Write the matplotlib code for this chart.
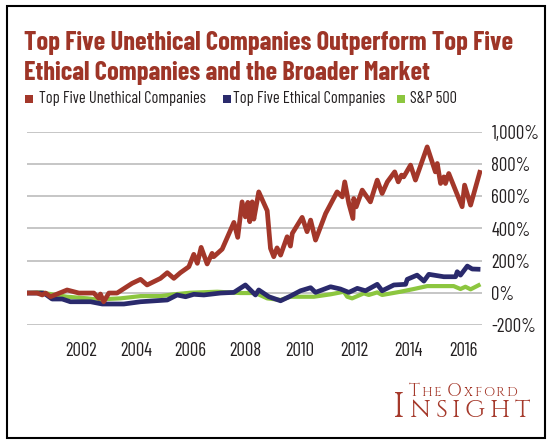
import matplotlib
matplotlib.use('Agg')
import matplotlib.pyplot as plt
from matplotlib.patches import Rectangle
from matplotlib.transforms import IdentityTransform
import matplotlib.ticker as mticker

# ---------------- data ----------------
years_unethical = [2000.0, 2000.38, 2000.57, 2000.69, 2000.87, 2001.48, 2001.91, 2002.46, 2002.64, 2002.70,
                   2002.82, 2003.01, 2003.31, 2003.86, 2004.17, 2004.41, 2004.90, 2005.15, 2005.39, 2005.63,
                   2005.94, 2006.12, 2006.25, 2006.39, 2006.61, 2006.79, 2006.85, 2007.16, 2007.59, 2007.73,
                   2007.89, 2008.01, 2008.10, 2008.17, 2008.26, 2008.32, 2008.50, 2008.81, 2008.93, 2009.05,
                   2009.17, 2009.30, 2009.54, 2009.66, 2009.73, 2010.09, 2010.27, 2010.40, 2010.58, 2010.95,
                   2011.37, 2011.56, 2011.65, 2011.80, 2011.95, 2011.98, 2012.07, 2012.29, 2012.59, 2012.84,
                   2013.02, 2013.21, 2013.48, 2013.61, 2013.73, 2013.81, 2014.06, 2014.24, 2014.67, 2014.97,
                   2015.04, 2015.16, 2015.28, 2015.34, 2015.46, 2015.95, 2016.04, 2016.26, 2016.62]
unethical = [0, 0, -12, 0, -23, 19, 0, 0, -33, -6,
             -54, 0, 0, 60, 85, 50, 91, 126, 91, 126,
             163, 240, 184, 283, 180, 246, 225, 272, 438, 345,
             565, 472, 562, 442, 565, 458, 627, 510, 277, 225,
             280, 235, 349, 291, 370, 469, 380, 452, 328, 493,
             627, 596, 689, 555, 462, 586, 534, 638, 565, 700,
             617, 689, 751, 689, 731, 720, 793, 700, 906, 751,
             803, 679, 720, 679, 741, 535, 669, 545, 762]

years_ethical = [2000.0, 2000.63, 2000.93, 2001.30, 2001.60, 2002.34, 2002.77, 2003.56, 2004.17, 2005.15,
                 2005.51, 2005.82, 2006.12, 2006.49, 2007.10, 2007.59, 2008.01, 2008.38, 2008.50, 2008.87,
                 2009.30, 2009.66, 2010.03, 2010.40, 2010.58, 2011.13, 2011.49, 2011.80, 2012.11, 2012.41,
                 2012.84, 2013.02, 2013.45, 2013.88, 2013.94, 2014.30, 2014.55, 2014.73, 2015.28, 2015.71,
                 2015.77, 2015.89, 2016.14, 2016.32, 2016.62]
ethical = [0, 0, -37, -37, -54, -54, -68, -68, -54, -43,
           -12, -23, -8, -12, 0, 4, 50, -12, 19, -23,
           -48, -19, 14, 33, 4, 39, 25, 4, 29, 14,
           54, 14, 50, 54, 85, 111, 74, 116, 101, 101,
           132, 111, 167, 149, 147]

years_sp500 = [2000.0, 2000.51, 2000.93, 2001.48, 2002.22, 2002.70, 2002.95, 2003.44, 2004.17, 2004.90,
               2005.39, 2006.00, 2006.98, 2007.83, 2008.38, 2008.81, 2009.30, 2009.66, 2010.52, 2011.13,
               2011.62, 2011.74, 2011.92, 2012.35, 2012.53, 2012.84, 2013.02, 2013.69, 2014.18, 2014.67,
               2015.64, 2015.89, 2016.07, 2016.26, 2016.62]
sp500 = [0, 4, -8, -23, -33, -43, -37, -33, -19, -19,
         -8, 2, 8, 0, 0, -33, -43, -23, -23, -8,
         8, -23, -33, -2, -12, 4, -12, 8, 25, 43,
         43, 25, 39, 23, 54]

series_names = ["Top Five Unethical Companies", "Top Five Ethical Companies", "S&P 500"]
title_lines = ["Top Five Unethical Companies Outperform Top Five",
               "Ethical Companies and the Broader Market"]
x_ticks = [2002, 2004, 2006, 2008, 2010, 2012, 2014, 2016]
y_ticks = [-200, 0, 200, 400, 600, 800, 1000]

# ---------------- style ----------------
RED = '#A3372A'
NAVY = '#2A2A6C'
GREEN = '#8CC63F'
TITLE_RED = '#9E3527'
TXT = '#231F20'
COND = ['Barlow Condensed', 'DejaVu Sans']
SERIF = ['Cinzel', 'Liberation Serif', 'DejaVu Serif']
LOGO = '#A5392B'

W, H = 550, 446
fig = plt.figure(figsize=(W / 100, H / 100), dpi=100)
fig.patch.set_facecolor('white')
renderer = fig.canvas.get_renderer()


def fit_size(text, family, weight, target_px):
    t = fig.text(0, 0, text, fontsize=10, family=family, fontweight=weight)
    w = t.get_window_extent(renderer).width
    t.remove()
    return 10.0 * target_px / w


ax = fig.add_axes([26.7 / W, 1 - 325.3 / H, (481.7 - 26.7) / W, (325.3 - 131.7) / H])
ax.set_facecolor('none')

ax.plot(years_sp500, sp500, color=GREEN, lw=3.0, solid_joinstyle='round', solid_capstyle='butt', zorder=3)
ax.plot(years_ethical, ethical, color=NAVY, lw=3.4, solid_joinstyle='round', solid_capstyle='butt', zorder=4)
ax.plot(years_unethical, unethical, color=RED, lw=3.4, solid_joinstyle='round', solid_capstyle='butt', zorder=5)

tick_size = fit_size("2002", COND, 'normal', 31.7)
ax.set_xlim(2000.0, 2016.667)
ax.set_ylim(-200, 1000)
ax.set_xticks(x_ticks)
ax.set_xticklabels([str(t) for t in x_ticks])
ax.set_yticks(y_ticks)
ax.yaxis.set_major_formatter(mticker.FuncFormatter(lambda v, p: f"{v:,.0f}%"))
ax.yaxis.tick_right()
ax.tick_params(axis='both', length=0, labelsize=tick_size, labelcolor=TXT)
ax.tick_params(axis='x', pad=12)
ax.tick_params(axis='y', pad=7)
for lab in ax.get_xticklabels():
    lab.set_family(COND)
for lab in ax.get_yticklabels():
    lab.set_family(COND)
    lab.set_horizontalalignment('left')
ax.grid(axis='y', color='#C2C2C2', lw=1.3, zorder=1)
ax.set_axisbelow(True)
for s in ax.spines.values():
    s.set_visible(False)

# ---------------- title ----------------
title_size = fit_size(title_lines[0], COND, 'bold', 488)
fig.text(24 / W, 1 - 50 / H, title_lines[0], fontsize=title_size, fontweight='bold', family=COND,
         color=TITLE_RED, va='baseline', ha='left')
fig.text(24 / W, 1 - 80 / H, title_lines[1], fontsize=title_size, fontweight='bold', family=COND,
         color=TITLE_RED, va='baseline', ha='left')

# ---------------- legend ----------------
leg_size = fit_size(series_names[0], COND, 'normal', 166)
leg_sq_x = [25, 222.8, 396.5]
leg_txt_x = [38.6, 233, 410]
for name, col, sx, tx in zip(series_names, [RED, NAVY, GREEN], leg_sq_x, leg_txt_x):
    fig.patches.append(Rectangle((sx / W, 1 - 103 / H), 8 / W, 8 / H, transform=fig.transFigure,
                                 facecolor=col, edgecolor='none'))
    fig.text(tx / W, 1 - 103.3 / H, name, fontsize=leg_size, family=COND, color=TXT,
             va='baseline', ha='left')

# ---------------- frame ----------------
fig.patches.append(Rectangle((6.7 / W, 1 - 437.7 / H), (545 - 6.7) / W, (437.7 - 6) / H,
                             transform=fig.transFigure, facecolor='none', edgecolor='black', lw=1.5))


# ---------------- logo ----------------
def draw_seq(parts, x0, x1, ybase, weight):
    items = []
    for text, size in parts:
        for ch in text:
            items.append((ch, size))
    widths = []
    for ch, size in items:
        if ch == ' ':
            widths.append(size * 0.3)
            continue
        t = fig.text(0, 0, ch, fontsize=size, family=SERIF, fontweight=weight, transform=IdentityTransform())
        widths.append(t.get_window_extent(renderer).width)
        t.remove()
    gaps = len(items) - 1
    track = ((x1 - x0) - sum(widths)) / gaps
    x = x0
    for (ch, size), w in zip(items, widths):
        if ch != ' ':
            fig.text(x, ybase, ch, fontsize=size, family=SERIF, fontweight=weight, color=LOGO,
                     transform=IdentityTransform(), va='baseline', ha='left')
        x += w + track


draw_seq([("T", 12.7), ("HE", 9.6), (" ", 9.6), ("O", 12.7), ("XFORD", 9.6)], 408.3, 516.7, H - 396, 'semibold')
draw_seq([("I", 25.3), ("NSIGHT", 18.0)], 393.3, 530, H - 416.7, 'semibold')

fig.savefig('out.png', dpi=100, facecolor='white')
